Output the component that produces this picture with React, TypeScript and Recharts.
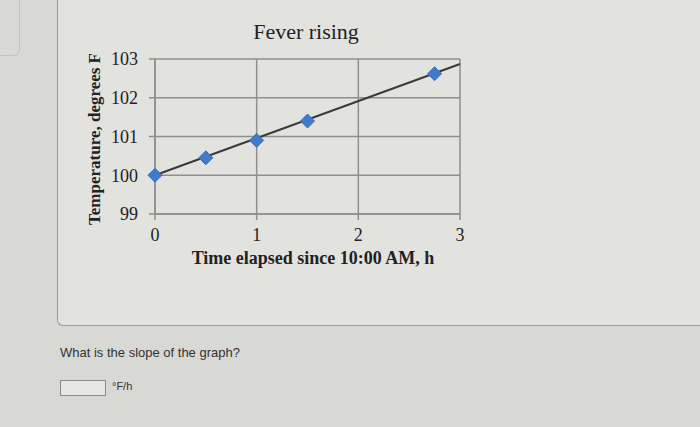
import React from 'react';
import { ComposedChart, Line, Scatter, XAxis, YAxis, CartesianGrid } from 'recharts';

// measured readings (hours after 10:00 AM, degrees F)
const hours = [0, 0.5, 1, 1.5, 2.75];
const temps = [100, 100.45, 100.9, 101.4, 102.62];

// fitted trend line, read at both ends of the plot
const trendHours = [0, 3];
const trendTemps = [100, 102.87];

const xTicks = [0, 1, 2, 3];
const yTicks = [99, 100, 101, 102, 103];

const points = hours.map((h, i) => ({ x: h, y: temps[i] }));
const trend = trendHours.map((h, i) => ({ x: h, y: trendTemps[i] }));

const serif = '"Liberation Serif", "Times New Roman", serif';
const sans = '"Liberation Sans", Arial, sans-serif';

const Diamond = (props: any) => {
  const { cx, cy } = props;
  const r = 7;
  return (
    <path
      d={`M${cx},${cy - r} L${cx + r},${cy} L${cx},${cy + r} L${cx - r},${cy} Z`}
      fill="#3f7bcb"
      stroke="#3a70bb"
      strokeWidth={1}
    />
  );
};

const App: React.FC = () => {
  const tick = { fontSize: 18, fontFamily: serif, fill: '#222' };
  return (
    <div style={{ position: 'fixed', left: 0, top: 0, width: 700, height: 427, background: '#d8d8d5', overflow: 'hidden' }}>
      {/* little card edge at the top left */}
      <div style={{ position: 'absolute', left: -10, top: -10, width: 28, height: 64, border: '1px solid #c2c2c0', borderRadius: 6 }} />
      {/* question card */}
      <div style={{ position: 'absolute', left: 57, top: -10, width: 700, height: 335, background: '#e2e2df', borderLeft: '1.5px solid #9a9a98', borderBottom: '1.5px solid #9a9a98', borderBottomLeftRadius: 6 }} />

      <div style={{ position: 'absolute', left: 0, top: 19, width: 612, textAlign: 'center', fontFamily: serif, fontSize: 22, color: '#222' }}>
        Fever rising
      </div>

      <div
        style={{
          position: 'absolute', left: 95, top: 139, transform: 'translate(-50%, -50%) rotate(-90deg)',
          whiteSpace: 'nowrap', fontFamily: serif, fontSize: 17, fontWeight: 600, color: '#222',
        }}
      >
        Temperature, degrees F
      </div>

      <div style={{ position: 'absolute', left: 0, top: 0 }}>
        <ComposedChart width={700} height={290} margin={{ top: 59, right: 240, bottom: 46, left: 0 }}>
          <CartesianGrid stroke="#8e8e8c" strokeWidth={1.5} />
          <XAxis
            type="number"
            dataKey="x"
            domain={[0, 3]}
            ticks={xTicks}
            tick={tick}
            tickMargin={8}
            stroke="#8e8e8c"
            strokeWidth={1.5}
          />
          <YAxis
            type="number"
            dataKey="y"
            domain={[99, 103]}
            ticks={yTicks}
            width={155}
            tick={tick}
            tickMargin={11}
            stroke="#8e8e8c"
            strokeWidth={1.5}
          />
          <Line
            data={trend}
            dataKey="y"
            stroke="#3a3a3a"
            strokeWidth={2}
            dot={false}
            activeDot={false}
            isAnimationActive={false}
          />
          <Scatter data={points} dataKey="y" shape={<Diamond />} isAnimationActive={false} />
        </ComposedChart>
      </div>

      <div style={{ position: 'absolute', left: 0, top: 248, width: 626, textAlign: 'center', fontFamily: serif, fontSize: 18, fontWeight: 600, color: '#222' }}>
        Time elapsed since 10:00 AM, h
      </div>

      <div style={{ position: 'absolute', left: 60, top: 345, fontFamily: sans, fontSize: 13, color: '#333' }}>
        What is the slope of the graph?
      </div>
      <div style={{ position: 'absolute', left: 60, top: 380, width: 44, height: 14, border: '1px solid #8a8a8a', background: '#e6e6e3' }} />
      <div style={{ position: 'absolute', left: 112, top: 380, fontFamily: sans, fontSize: 11, color: '#333' }}>
        °F/h
      </div>
    </div>
  );
};

export default App;
